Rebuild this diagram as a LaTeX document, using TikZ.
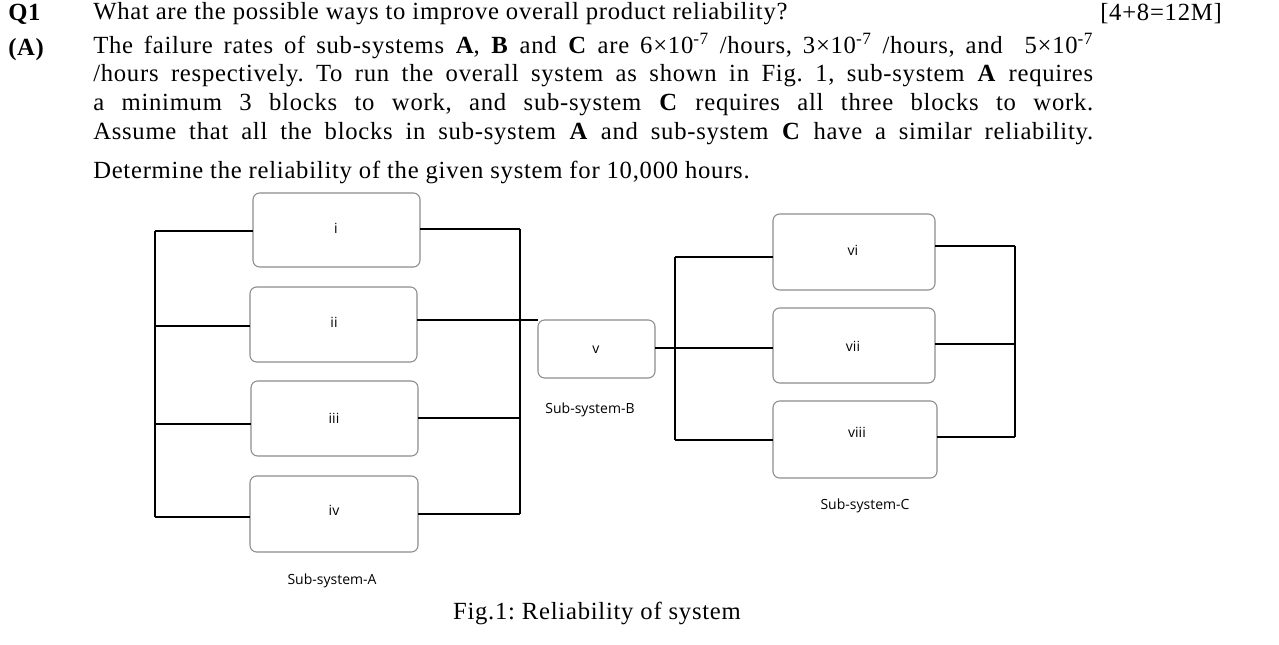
\documentclass[tikz,border=0pt]{standalone}
\usepackage{fontspec}
\setmainfont{Liberation Serif}[LetterSpace=3]
\newfontfamily\lab{Open Sans}
\newcommand{\ex}[1]{\textsuperscript{#1}}
\frenchspacing
\begin{document}
\begin{tikzpicture}[x=0.75pt,y=-0.75pt,
  blk/.style={draw=black!45,rounded corners=5pt,line width=0.8pt},
  wire/.style={line width=0.9pt},
  lbl/.style={font=\lab\fontsize{10.5}{12}\selectfont},
  txt/.style={font=\fontsize{18.5}{22}\selectfont,inner sep=0,anchor=west}]
\fill[white] (0,0) rectangle (1279,645);
\node[txt] (q) at (8,14) {\textbf{Q1}};
\node[txt] (qt) at (93,14) {What are the possible ways to improve overall product reliability?};
\node[txt,anchor=east] (mk) at (1222,14) {[4+8=12M]};
\node[txt] (a) at (8,50) {\textbf{(A)}};
\node[txt] (l1) at (93,46) {\makebox[750pt][s]{The failure rates of sub-systems \textbf{A}, \textbf{B} and \textbf{C} are 6×10\ex{-7} /hours, 3×10\ex{-7} /hours, and \ 5×10\ex{-7}}};
\node[txt] (l2) at (93,76) {\makebox[750pt][s]{/hours respectively. To run the overall system as shown in Fig.~1, sub-system \textbf{A} requires}};
\node[txt] (l3) at (93,105) {\makebox[750pt][s]{a minimum 3 blocks to work, and sub-system \textbf{C} requires all three blocks to work.}};
\node[txt] (l4) at (93,134) {\makebox[750pt][s]{Assume that all the blocks in sub-system \textbf{A} and sub-system \textbf{C} have a similar reliability.}};
\node[txt] (l5) at (93,172) {Determine the reliability of the given system for 10,000 hours.};
% sub-system A
\draw[blk] (253,193) rectangle (420,267);
\draw[blk] (250,287) rectangle (417,362);
\draw[blk] (251,381) rectangle (418,456);
\draw[blk] (250,476) rectangle (418,552);
\node[lbl] (li) at (336,228) {i};
\node[lbl] (lii) at (334,322) {ii};
\node[lbl] (liii) at (334,418) {iii};
\node[lbl] (liv) at (334,510) {iv};
\draw[wire] (155,231) -- (155,517);
\foreach \y/\z in {231/253,326/250,424/251,517/250} \draw[wire] (155,\y) -- (\z,\y);
\foreach \y/\z in {229/420,320/417,418/418,514/418} \draw[wire] (\z,\y) -- (520,\y);
\draw[wire] (520,229) -- (520,514);
\node[lbl] (sa) at (332,581) {Sub-system-A};
% B
\draw[blk] (538,320) rectangle (655,378);
\node[lbl] (lv) at (596,350) {v};
\draw[wire] (520,320) -- (538,320);
\node[lbl] (sb) at (590,410) {Sub-system-B};
% C
\draw[blk] (773,214) rectangle (935,290);
\draw[blk] (773,308) rectangle (935,383);
\draw[blk] (773,401) rectangle (937,478);
\node[lbl] (lvi) at (853,250) {vi};
\node[lbl] (lvii) at (853,346) {vii};
\node[lbl] (lviii) at (857,432) {viii};
\draw[wire] (655,348) -- (675,348);
\draw[wire] (675,257) -- (675,440);
\foreach \y in {257,348,440} \draw[wire] (675,\y) -- (773,\y);
\foreach \y/\z in {246/935,344/935,437/937} \draw[wire] (\z,\y) -- (1015,\y);
\draw[wire] (1015,246) -- (1015,437);
\node[lbl] (sc) at (865,506) {Sub-system-C};
\node[font=\fontsize{18.5}{20}\selectfont] (cap) at (597,613) {Fig.1: Reliability of system};
\end{tikzpicture}
\end{document}
